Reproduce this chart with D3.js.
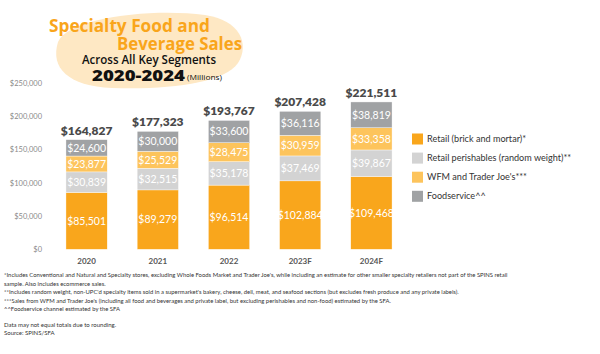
<!DOCTYPE html>
<html>
<head>
<meta charset="utf-8">
<script src="https://cdn.jsdelivr.net/npm/d3@7"></script>
<style>
  body { margin: 0; background: #fff; }
  svg { display: block; font-family: Lato, "Open Sans", sans-serif; }
</style>
</head>
<body>
<div id="chart"></div>
<script>
/* specialty food stacked bars, 2020-2024 */

const years = ["2020", "2021", "2022", "2023F", "2024F"];
const retail = [85501, 89279, 96514, 102884, 109468];
const perishables = [30839, 32515, 35178, 37469, 39867];
const wfm = [23877, 25529, 28475, 30959, 33358];
const foodservice = [24600, 30000, 33600, 36116, 38819];
const totals = [164827, 177323, 193767, 207428, 221511];
const seriesNames = ["Retail (brick and mortar)*", "Retail perishables (random weight)**", "WFM and Trader Joe's***", "Foodservice^^"];
const yTicks = [0, 50000, 100000, 150000, 200000, 250000];
const footnotes = [
  "*Includes Conventional and Natural and Specialty stores, excluding Whole Foods Market and Trader Joe's, while including an estimate for other smaller specialty retailers not part of the SPINS retail",
  "sample. Also includes ecommerce sales.",
  "**Includes random weight, non-UPC'd specialty items sold in a supermarket's bakery, cheese, deli, meat, and seafood sections (but excludes fresh produce and any private labels).",
  "***Sales from WFM and Trader Joe's (including all food and beverages and private label, but excluding perishables and non-food) estimated by the SFA.",
  "^^Foodservice channel estimated by the SFA"
];
const notes = ["Data may not equal totals due to rounding.", "Source: SPINS/SFA"];

const width = 600, height = 354;
const colors = ["#F9A61C", "#D3D3D3", "#FDC45C", "#A0A2A4"];
const keys = ["retail", "perishables", "wfm", "foodservice"];

// table for the stack
const table = years.map((y, i) => ({
  year: y, retail: retail[i], perishables: perishables[i], wfm: wfm[i], foodservice: foodservice[i], total: totals[i]
}));

const svg = d3.select("#chart").append("svg")
  .attr("width", width)
  .attr("height", height);

// title blob
svg.append("path")
  .attr("d", "M 58 42 C 68 18, 150 8, 205 15 C 240 20, 250 44, 238 63 C 224 83, 170 90, 112 88 C 68 86, 50 68, 58 42 Z")
  .attr("fill", "#FEE8C4");

// title lines, stretched to the widths in the original
const title = svg.append("g").attr("font-family", "'Open Sans', Lato, sans-serif");
title.append("text").attr("x", 49).attr("y", 32)
  .attr("font-size", 17).attr("font-weight", 700).attr("fill", "#F9A51B")
  .attr("textLength", 161).attr("lengthAdjust", "spacingAndGlyphs")
  .text("Specialty Food and");
title.append("text").attr("x", 117).attr("y", 50)
  .attr("font-size", 17).attr("font-weight", 700).attr("fill", "#F9A51B")
  .attr("textLength", 125).attr("lengthAdjust", "spacingAndGlyphs")
  .text("Beverage Sales");
title.append("text").attr("x", 82).attr("y", 63.5)
  .attr("font-size", 12).attr("font-weight", 600).attr("fill", "#111")
  .attr("textLength", 134).attr("lengthAdjust", "spacingAndGlyphs")
  .text("Across All Key Segments");
title.append("text").attr("x", 92).attr("y", 80.5)
  .attr("font-size", 16.5).attr("font-weight", 800).attr("fill", "#111")
  .attr("textLength", 93).attr("lengthAdjust", "spacingAndGlyphs")
  .text("2020-2024");
title.append("text").attr("x", 187).attr("y", 80)
  .attr("font-size", 7.5).attr("fill", "#111")
  .attr("textLength", 35).attr("lengthAdjust", "spacingAndGlyphs")
  .text("(Millions)");

let x = d3.scaleBand()
  .domain(years)
  .range([51, 407])
  .paddingInner(0.42)
  .paddingOuter(0.21);

let y = d3.scaleLinear()
  .domain([0, 250000])
  .range([249.3, 83]);

// y axis, labels only
const yAxis = g => g
  .attr("transform", "translate(42,0)")
  .call(d3.axisLeft(y).tickValues(yTicks).tickSize(0).tickPadding(0).tickFormat(d => "$" + d3.format(",")(d)))
  .call(g => g.select(".domain").remove())
  .call(g => g.selectAll("text").attr("font-size", 7.5).attr("fill", "#8a8a8a").attr("font-family", "Lato, sans-serif"));
svg.append("g").call(yAxis);

// x axis, labels only
const xAxis = g => g
  .attr("transform", "translate(0,258)")
  .call(d3.axisBottom(x).tickSize(0).tickPadding(0))
  .call(g => g.select(".domain").remove())
  .call(g => g.selectAll("text").attr("font-size", 8).attr("font-weight", 700).attr("fill", "#555").attr("font-family", "Lato, sans-serif"));
svg.append("g").call(xAxis);

const stacked = d3.stack().keys(keys)(table);

let layer = svg.selectAll(".layer")
  .data(stacked)
  .join("g")
  .attr("class", "layer")
  .attr("fill", (d, i) => colors[i]);

layer.selectAll("rect")
  .data(d => d)
  .join("rect")
  .attr("x", d => x(d.data.year))
  .attr("width", x.bandwidth())
  .attr("y", d => y(d[1]))
  .attr("height", d => y(d[0]) - y(d[1]))
  .attr("stroke", "#fff")
  .attr("stroke-width", 0.4);

layer.selectAll("text")
  .data(d => d)
  .join("text")
  .attr("x", d => x(d.data.year) + x.bandwidth() / 2)
  .attr("y", d => (y(d[0]) + y(d[1])) / 2)
  .attr("dy", "0.36em")
  .attr("text-anchor", "middle")
  .attr("font-size", 10.5)
  .attr("fill", "#fff")
  .text(d => "$" + d3.format(",")(d[1] - d[0]));

// totals on top
svg.selectAll(".total")
  .data(table)
  .join("text")
  .attr("class", "total")
  .attr("x", d => x(d.year) + x.bandwidth() / 2)
  .attr("y", d => y(d.retail + d.perishables + d.wfm + d.foodservice) - 5)
  .attr("text-anchor", "middle")
  .attr("font-size", 12)
  .attr("font-weight", 800)
  .attr("fill", "#4a4a4a")
  .text(d => "$" + d3.format(",")(d.total));

// legend
let legend = svg.selectAll(".legend")
  .data(seriesNames)
  .join("g")
  .attr("class", "legend")
  .attr("transform", (d, i) => `translate(412, ${133.5 + i * 19.1})`);

legend.append("rect")
  .attr("width", 11)
  .attr("height", 11)
  .attr("fill", (d, i) => colors[i]);

legend.append("text")
  .attr("x", 15)
  .attr("y", 5.5)
  .attr("dy", "0.35em")
  .attr("font-size", 9.1)
  .attr("fill", "#333")
  .text(d => d);

// footnotes
svg.selectAll(".foot")
  .data(footnotes)
  .join("text")
  .attr("class", "foot")
  .attr("x", 4)
  .attr("y", (d, i) => 277 + i * 8.5)
  .attr("font-size", 5.9)
  .attr("fill", "#333")
  .text(d => d);

svg.selectAll(".note")
  .data(notes)
  .join("text")
  .attr("class", "note")
  .attr("x", 4)
  .attr("y", (d, i) => 327 + i * 8.4)
  .attr("font-size", 6)
  .attr("fill", "#333")
  .text(d => d);
</script>
</body>
</html>
